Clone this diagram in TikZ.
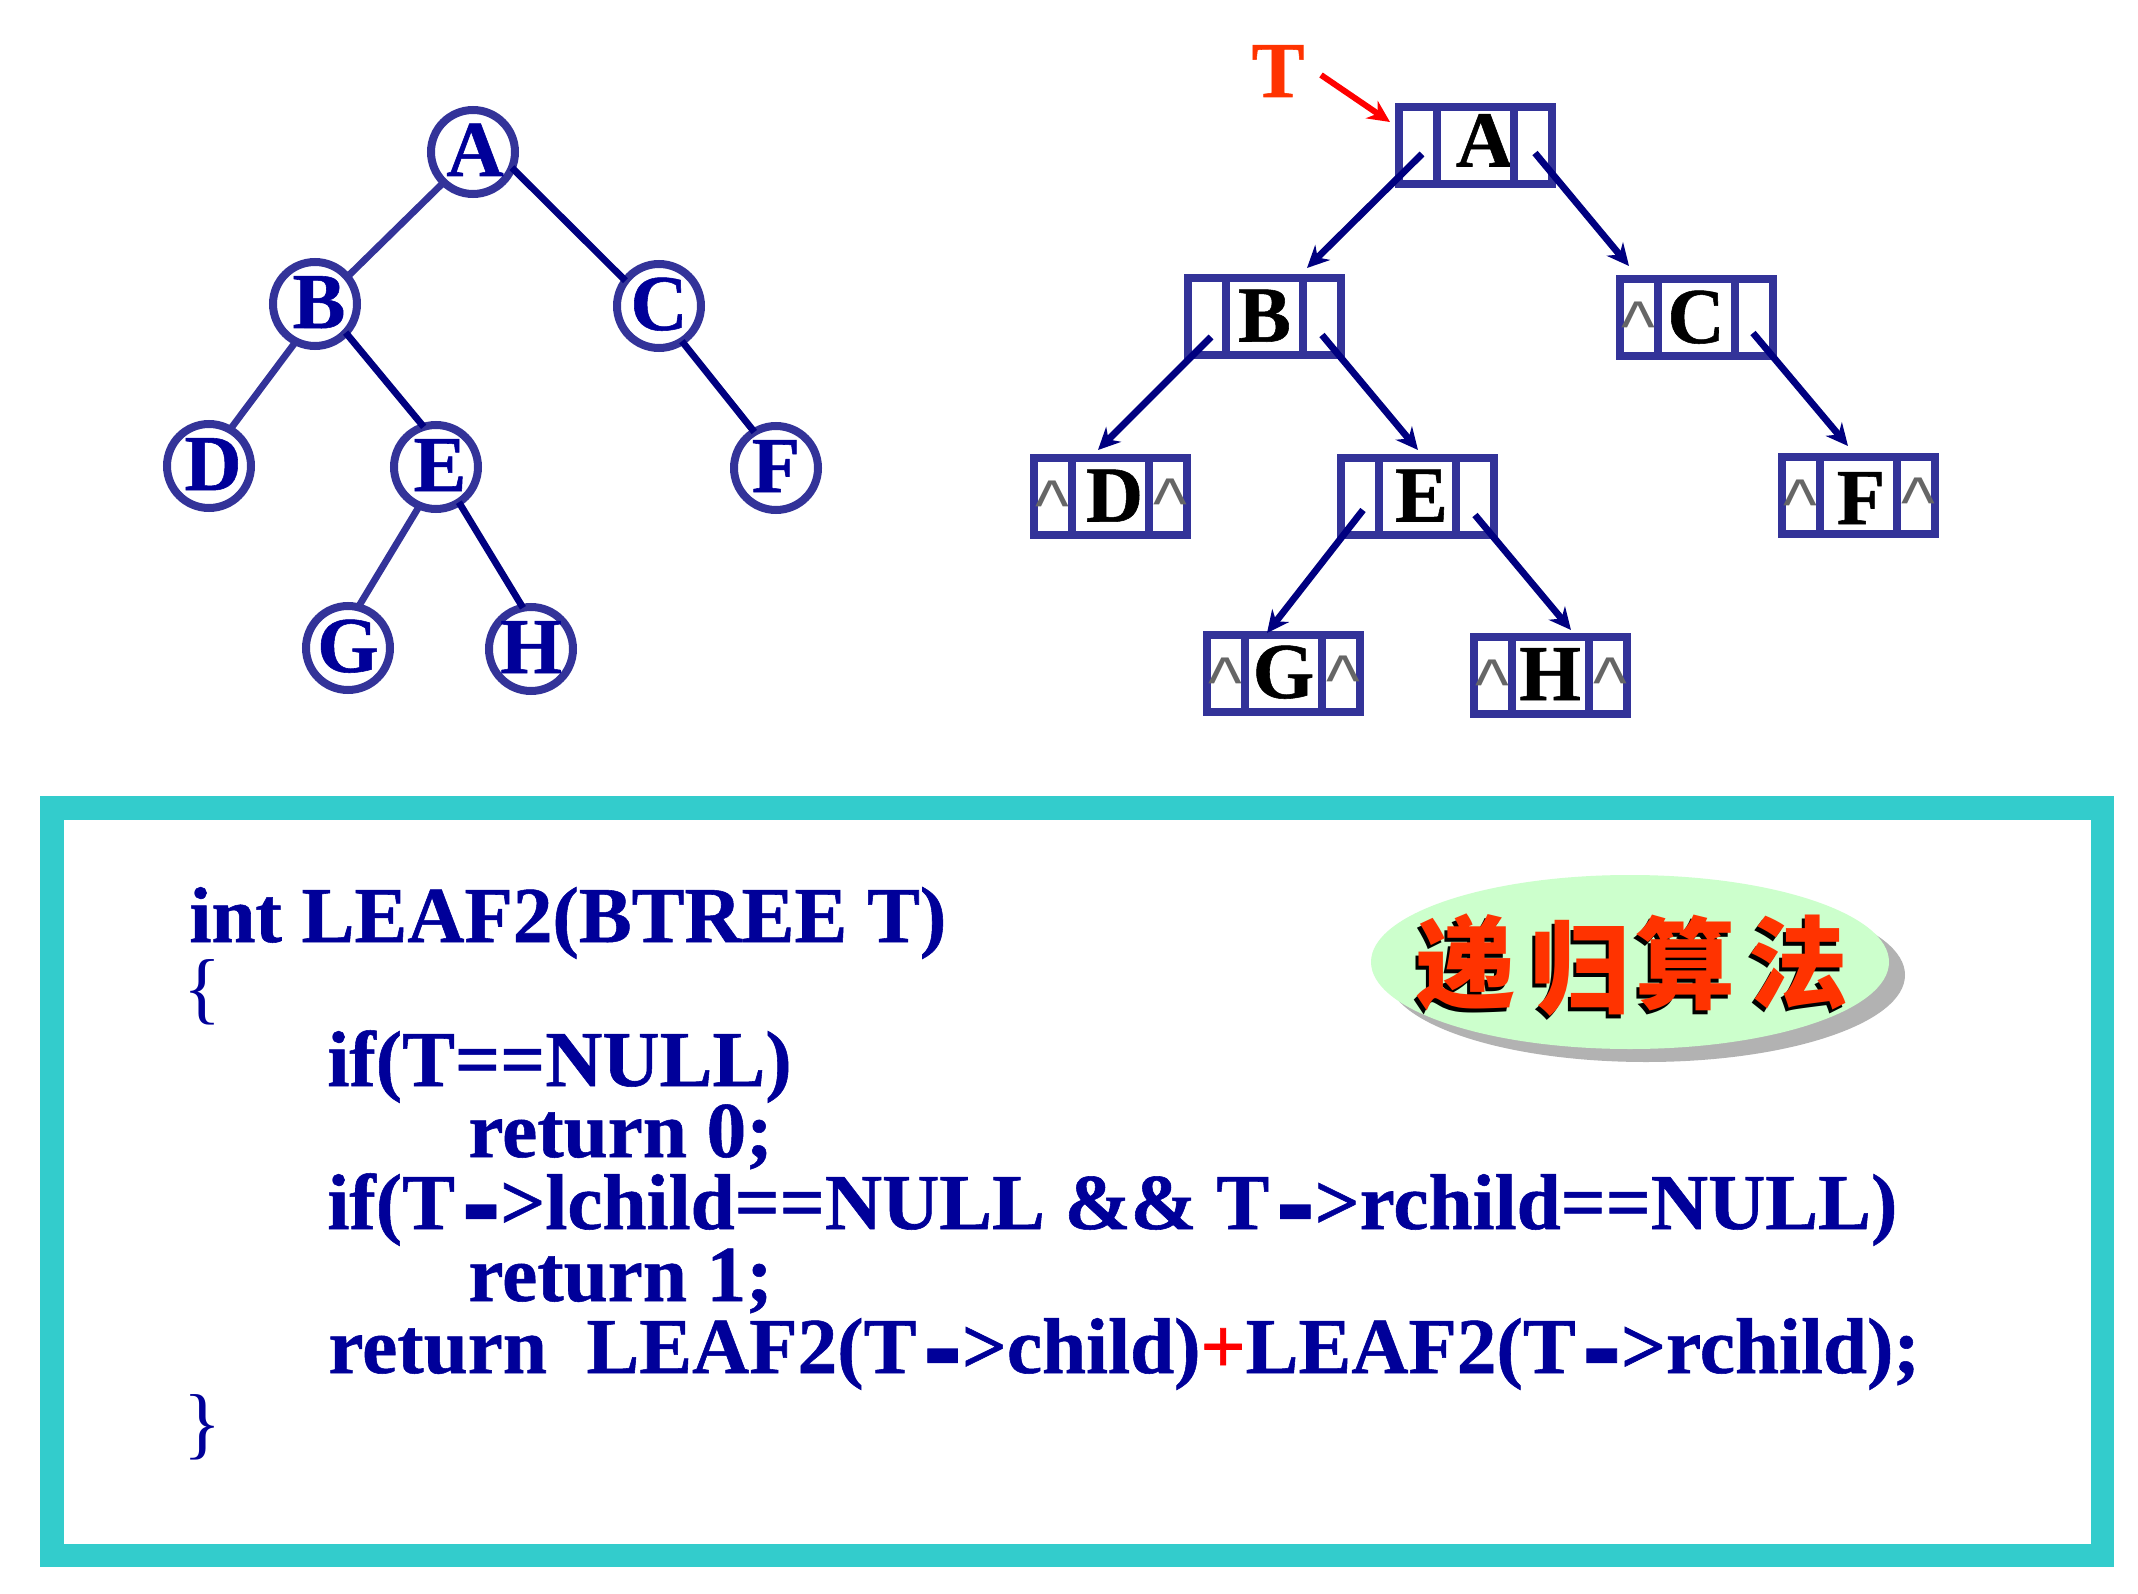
\documentclass[tikz,border=0pt]{standalone}
\usepackage{fontspec}
\setmainfont{Liberation Serif}[BoldFeatures={FakeBold=0.7}]
\newfontfamily\nilfont{Liberation Sans}
\newfontfamily\cjkfont{Noto Sans CJK SC}
\usetikzlibrary{shapes.geometric,arrows.meta}
\definecolor{codeblue}{HTML}{000099}
\definecolor{boxblue}{HTML}{333399}
\definecolor{navyline}{HTML}{000080}
\definecolor{frameteal}{HTML}{33CCCC}
\definecolor{orangered}{HTML}{FF3300}
\definecolor{leafgreen}{HTML}{CCFFCC}
\definecolor{shadowgray}{HTML}{B2B2B2}
\definecolor{nilgray}{HTML}{666666}
\tikzset{
  treenode/.style={circle,draw=boxblue,fill=white,line width=4pt,minimum size=42pt,inner sep=0pt,outer sep=0pt,
    text=codeblue,text height=24pt,text depth=0pt,font=\fontsize{39.6}{40}\selectfont\bfseries},
  edgeA/.style={line width=3.4pt,draw=boxblue},
  edgeB/.style={line width=3.4pt,draw=navyline},
  listbox/.style={rectangle,draw=boxblue,line width=4pt,minimum width=76.5pt,minimum height=38.5pt,inner sep=0pt,outer sep=0pt,
    text=black,text height=25pt,text depth=0pt,font=\fontsize{39.6}{40}\selectfont\bfseries},
  divider/.style={draw=boxblue,line width=4pt},
  nilmark/.style={anchor=base,inner sep=0pt,text=nilgray,font=\fontsize{36}{36}\nilfont},
  pointer/.style={draw=navyline,line width=3.4pt,-{Stealth[length=11pt,width=10.5pt]}},
  codeline/.style={anchor=base west,inner sep=0pt,text=codeblue,font=\fontsize{39.6}{40}\selectfont\bfseries},
  hanzi/.style={inner sep=0pt,font=\fontsize{50}{50}\cjkfont\bfseries},
}
\newcommand{\listnode}[4]{%
  \node[listbox] (#1) at (#2,#3) {#4};
  \draw[divider] ([xshift=-19.25pt]#1.north) -- ([xshift=-19.25pt]#1.south);
  \draw[divider] ([xshift=19.25pt]#1.north) -- ([xshift=19.25pt]#1.south);
}
\newcommand{\nilleft}[1]{\node[nilmark] (#1-nl) at ([shift={(-58,34)}]#1.center) {\char`\^};}
\newcommand{\nilright}[1]{\node[nilmark] (#1-nr) at ([shift={(60,32)}]#1.center) {\char`\^};}
% shift a letter by #1 px to the right and #2 pt up inside its centred node
\newcommand{\nudge}[3]{\hspace*{#1pt}\raisebox{#2pt}{#3}}
% the thick dash of "->"
\newcommand{\thickdash}{\kern3.5pt\raisebox{-10pt}{\scalebox{1.45}[2]{-}}>}
\begin{document}
\begin{tikzpicture}[x=.5pt,y=-.5pt]
\useasboundingbox (0,0) rectangle (2138,1594);
\fill[white] (0,0) rectangle (2138,1594);
% ---- left tree
\node[treenode] (A) at (473,152) {\nudge{2}{0}{A}};
\node[treenode] (B) at (315,304) {\nudge{4}{0}{B}};
\node[treenode] (C) at (659,306) {C};
\node[treenode] (D) at (209,466) {\nudge{4}{0}{D}};
\node[treenode] (E) at (436,467) {\nudge{4}{0}{E}};
\node[treenode] (F) at (776,468) {F};
\node[treenode] (G) at (348,648) {G};
\node[treenode] (H) at (531,649) {H};
\draw[edgeA] (A.226) -- (B.40);
\draw[edgeB] (A.-22) -- (C.143);
\draw[edgeA] (B.243) -- (D.60);
\draw[edgeB] (B.-43) -- (E.107);
\draw[edgeB] (C.-57) -- (F.121);
\draw[edgeA] (E.247) -- (G.76);
\draw[edgeB] (E.-57) -- (H.101);
% ---- linked tree
\listnode{LA}{1475.5}{145.5}{\nudge{9}{2}{A}}
\listnode{LB}{1264.5}{316.5}{B}
\listnode{LC}{1696}{318}{C}
\listnode{LD}{1110.5}{496.5}{\nudge{4}{0}{D}}
\listnode{LE}{1417.5}{496.5}{\nudge{4}{0}{E}}
\listnode{LF}{1858}{495}{\nudge{3}{-2}{F}}
\listnode{LG}{1283.5}{673}{G}
\listnode{LH}{1550}{675}{H}
\nilleft{LC}
\nilleft{LD}\nilright{LD}
\nilleft{LF}\nilright{LF}
\nilleft{LG}\nilright{LG}
\nilleft{LH}\nilright{LH}
\draw[pointer] ([shift={(-53.5,8.5)}]LA.center) -- ([shift={(42.5,-48.5)}]LB.center);
\draw[pointer] ([shift={(59.5,7.5)}]LA.center) -- ([shift={(-67,-52)}]LC.center);
\draw[pointer] ([shift={(-53.5,20.5)}]LB.center) -- ([shift={(-12.5,-46.5)}]LD.center);
\draw[pointer] ([shift={(57.5,18.5)}]LB.center) -- ([shift={(0.5,-46.5)}]LE.center);
\draw[pointer] ([shift={(57,15)}]LC.center) -- ([shift={(-10,-49)}]LF.center);
\draw[pointer] ([shift={(-54.5,13.5)}]LE.center) -- ([shift={(-16.5,-40)}]LG.center);
\draw[pointer] ([shift={(57.5,18.5)}]LE.center) -- ([shift={(21,-45)}]LH.center);
% ---- T pointer
\node[anchor=base,inner sep=0pt,text=orangered,font=\fontsize{39.6}{40}\selectfont\bfseries] (Tlabel) at (1278,97) {T};
\coordinate (Tstart) at (1321,75);
\draw[draw=red,line width=3pt,-{Stealth[length=11pt,width=10.5pt]}] (Tstart) -- ([shift={(-9,15)}]LA.north west);
% ---- code frame
\node[draw=frameteal,line width=11.75pt,rectangle,minimum width=1025.25pt,minimum height=373.75pt,inner sep=0pt,outer sep=0pt] (frame) at (1077.25,1181.75) {};
\node[ellipse,fill=shadowgray,minimum width=259pt,minimum height=87pt,inner sep=0pt] (ovalshadow) at (1646,975) {};
\node[ellipse,fill=leafgreen,minimum width=259pt,minimum height=87pt,inner sep=0pt] (oval) at (1630,962) {};
\node[hanzi,text=black] (s1) at (1462,966) {递};
\node[hanzi,text=black] (s2) at (1577,972) {归};
\node[hanzi,text=black] (s3) at (1682,967) {算};
\node[hanzi,text=black] (s4) at (1795,966) {法};
\node[hanzi,text=orangered] (h1) at (1465,962) {递};
\node[hanzi,text=orangered] (h2) at (1580,968) {归};
\node[hanzi,text=orangered] (h3) at (1685,963) {算};
\node[hanzi,text=orangered] (h4) at (1798,962) {法};
% ---- code
\node[codeline] (l1) at (189,942) {int LEAF2(BTREE T)};
\node[codeline,font=\fontsize{39.6}{40}\selectfont] (l2) at (183,1014) {\{};
\node[codeline] (l3) at (327,1086) {if(T==NULL)};
\node[codeline] (l4) at (468,1157) {return 0;};
\node[codeline] (l5) at (327,1229) {if(T\thickdash lchild==NULL \&\& T\thickdash rchild==NULL)};
\node[codeline] (l6) at (468,1301) {return 1;};
\node[codeline] (l7) at (328,1373) {return\ \ LEAF2(T\thickdash child)\textcolor{red}{+}LEAF2(T\thickdash rchild);};
\node[codeline,font=\fontsize{39.6}{40}\selectfont] (l8) at (183,1449) {\}};
\end{tikzpicture}
\end{document}
